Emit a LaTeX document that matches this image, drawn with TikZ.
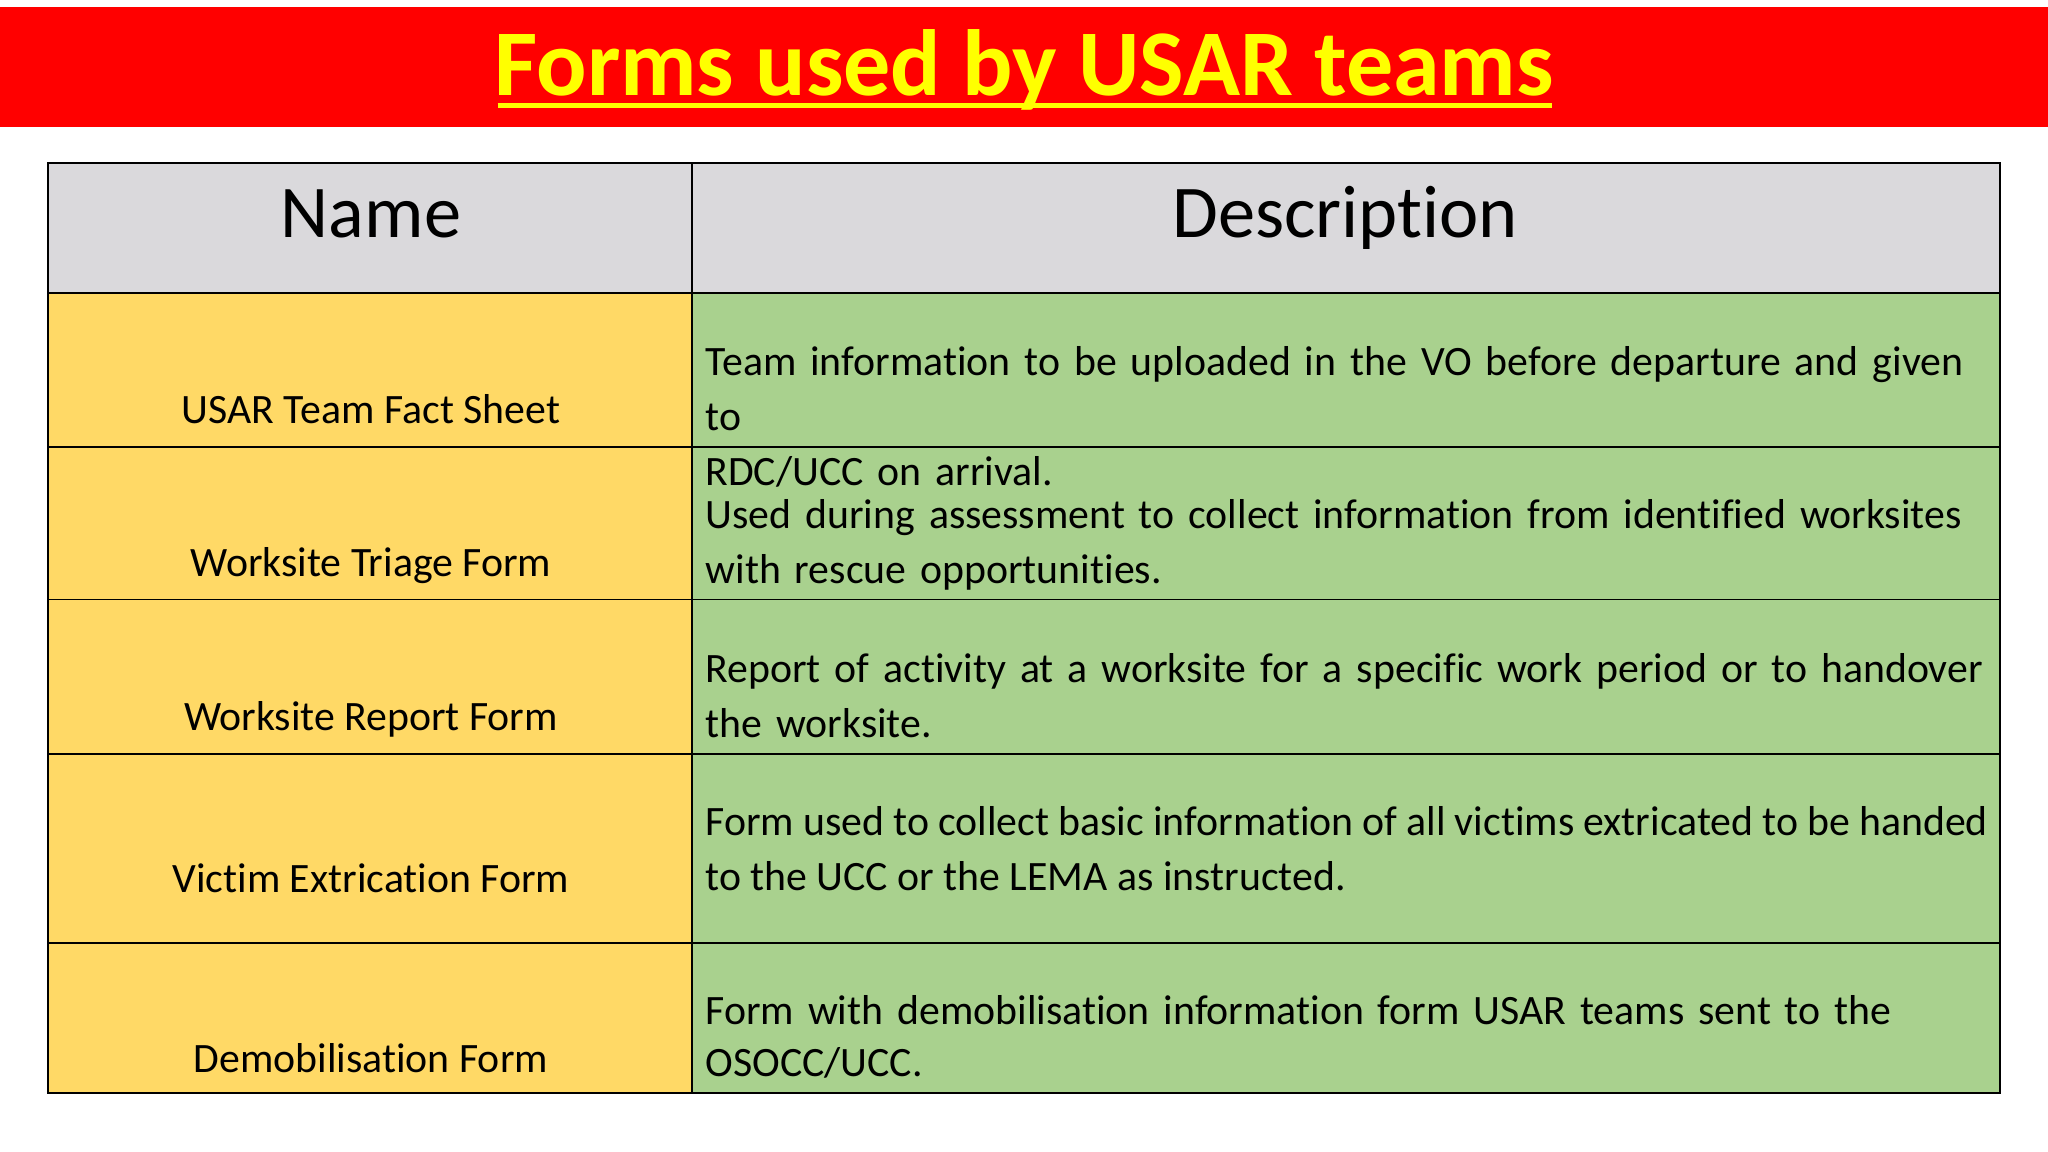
\documentclass[tikz,border=0pt]{standalone}
\usepackage{fontspec}
\setmainfont[Ligatures={NoCommon,NoRare}]{Carlito}
\definecolor{ttlred}{HTML}{FF0000}
\definecolor{ttlyel}{HTML}{FFFF00}
\definecolor{hdrgray}{HTML}{DAD9DC}
\definecolor{nameyel}{HTML}{FFD966}
\definecolor{descgrn}{HTML}{A9D18E}
\tikzset{
  cellbox/.style={draw=black, line width=1.5pt},
  nametxt/.style={anchor=base, font=\fontsize{32}{38}\selectfont},
  desctxt/.style={anchor=north west, align=left, text width=985pt, inner sep=0pt, font=\fontsize{32}{42}\selectfont},
  hdrtxt/.style={anchor=base, font=\fontsize{57}{62}\selectfont}
}
\begin{document}
\begin{tikzpicture}[x=1pt,y=-1pt]
\useasboundingbox (0,0) rectangle (1568,882);
\fill[white] (0,0) rectangle (1568,882);
\fill[ttlred] (0,5) rectangle (1568,97);
\node[anchor=base, text=ttlyel, font=\fontsize{72}{76}\bfseries\selectfont] (title) at (784,73) {Forms used by USAR teams};
\draw[ttlyel, line width=4pt] (381,81) -- (1188,81);
\fill[hdrgray] (37,125) rectangle (1531,224);
\foreach \a/\b in {224/342,342/459,459/577,577/722,722/837}{
  \fill[nameyel] (37,\a) rectangle (530,\b);
  \fill[descgrn] (530,\a) rectangle (1531,\b);
}
\draw[cellbox] (37,125) rectangle (1531,837);
\draw[cellbox] (530,125) -- (530,837);
\foreach \y in {224,342,459,577,722}{\draw[cellbox] (37,\y) -- (1531,\y);}
\node[hdrtxt] (hname) at (284,182) {Name};
\node[hdrtxt] (hdesc) at (1030,182) {Description};
\node[nametxt] (n1) at (284,324) {USAR Team Fact Sheet};
\node[nametxt] (n2) at (284,441) {Worksite Triage Form};
\node[nametxt] (n3) at (284,559) {Worksite Report Form};
\node[nametxt] (n4) at (284,683) {Victim Extrication Form};
\node[nametxt] (n5) at (284,821) {Demobilisation Form};
\node[desctxt] (d1) at (540,265) {Team information to be uploaded in the VO before departure and given to\\RDC/UCC on arrival.};
\node[desctxt] (d2) at (540,382) {Used during assessment to collect information from identified worksites\\with rescue opportunities.};
\node[desctxt] (d3) at (540,500) {Report of activity at a worksite for a specific work period or to handover\\the worksite.};
\node[desctxt, align=justify, text width=982pt] (d4) at (540,617) {Form used to collect basic information of all victims extricated to be handed to the UCC or the LEMA as instructed.};
\node[desctxt, font=\fontsize{32}{40}\selectfont] (d5) at (540,762) {Form with demobilisation information form USAR teams sent to the\\OSOCC/UCC.};
\end{tikzpicture}
\end{document}
